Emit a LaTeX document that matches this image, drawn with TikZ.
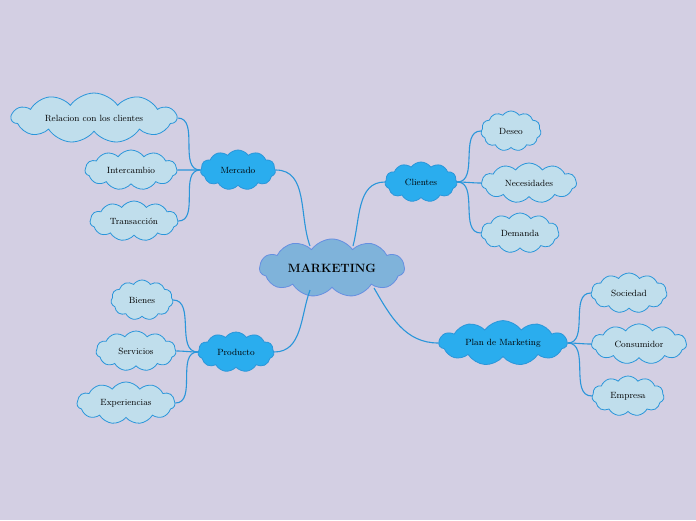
\documentclass[tikz,border=0pt]{standalone}
\usetikzlibrary{shapes.symbols}
\definecolor{bg}{HTML}{D3CFE3}
\definecolor{ln}{HTML}{2A96DA}
\definecolor{cfill}{HTML}{7FB3DA}
\definecolor{mfill}{HTML}{2AADEE}
\definecolor{lfill}{HTML}{C0DEEC}
\tikzset{
 cl/.style={cloud, cloud puffs=11, cloud puff arc=110, aspect=2.2, draw=ln, line width=0.8pt, inner sep=0pt, font=\fontsize{9}{10}\selectfont},
 leaf/.style={cl, fill=lfill},
 mainn/.style={cl, fill=mfill},
 con/.style={draw=ln, line width=1.1pt}
}
\begin{document}
\begin{tikzpicture}[x=1pt,y=-1pt]
\fill[bg] (0,0) rectangle (696,520);
\useasboundingbox (0,0) rectangle (696,520);
\node[cl, fill=cfill, draw=cfill!80!blue, aspect=3, minimum width=145pt, minimum height=48pt, font=\bfseries\fontsize{12}{14}\selectfont] (m) at (332,268) {MARKETING};
\node[mainn, minimum width=75pt, minimum height=40pt] (mer) at (238,170) {Mercado};
\node[mainn, minimum width=72pt, minimum height=40pt] (cli) at (421,182) {Clientes};
\node[mainn, minimum width=76pt, minimum height=40pt] (pro) at (236,352) {Producto};
\node[mainn, aspect=3.5, minimum width=128pt, minimum height=40pt] (plan) at (503,343) {Plan de Marketing};
\node[leaf, aspect=4.5, minimum width=165pt, minimum height=40pt] (rel) at (94,118) {Relacion con los clientes};
\node[leaf, minimum width=92pt, minimum height=40pt] (int) at (131,170) {Intercambio};
\node[leaf, minimum width=88pt, minimum height=40pt] (tra) at (134,221) {Transacción};
\node[leaf, minimum width=60pt, minimum height=40pt, aspect=1.5] (des) at (511,131) {Deseo};
\node[leaf, minimum width=95pt, minimum height=40pt] (nec) at (529,183) {Necesidades};
\node[leaf, minimum width=78pt, minimum height=40pt] (dem) at (520,233) {Demanda};
\node[leaf, minimum width=62pt, minimum height=40pt, aspect=1.5] (bie) at (142,300) {Bienes};
\node[leaf, minimum width=80pt, minimum height=40pt] (ser) at (136,351) {Servicios};
\node[leaf, minimum width=98pt, minimum height=40pt] (exp) at (126,403) {Experiencias};
\node[leaf, minimum width=76pt, minimum height=40pt] (soc) at (629,293) {Sociedad};
\node[leaf, minimum width=95pt, minimum height=40pt] (con) at (639,344) {Consumidor};
\node[leaf, minimum width=72pt, minimum height=40pt] (emp) at (628,396) {Empresa};
\draw[con] (310,246) to[out=110,in=0] (mer.east);
\draw[con] (353,246) to[out=75,in=180] (cli.west);
\draw[con] (310,290) to[out=-110,in=0] (pro.east);
\draw[con] (374,288) to[out=-60,in=180] (plan.west);
\foreach \t in {rel,int,tra}{\draw[con] (mer.west) to[out=180,in=0] (\t.east);}
\foreach \t in {des,nec,dem}{\draw[con] (cli.east) to[out=0,in=180] (\t.west);}
\foreach \t in {bie,ser,exp}{\draw[con] (pro.west) to[out=180,in=0] (\t.east);}
\foreach \t in {soc,con,emp}{\draw[con] (plan.east) to[out=0,in=180] (\t.west);}
\end{tikzpicture}
\end{document}
